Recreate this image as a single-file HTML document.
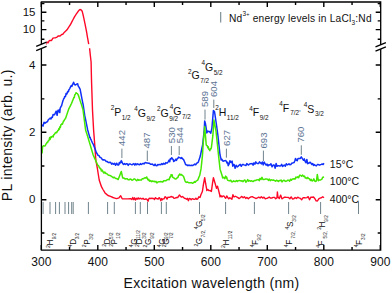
<!DOCTYPE html>
<html><head><meta charset="utf-8"><style>
html,body{margin:0;padding:0;background:#fff;}
svg{display:block;font-family:"Liberation Sans",sans-serif;}
</style></head><body>
<svg width="392" height="293" viewBox="0 0 392 293">
<rect width="392" height="293" fill="#fff"/>
<polyline points="44.30,45.04 46.10,44.14 47.12,42.04 48.15,42.79 49.18,40.74 50.20,40.40 51.57,40.43 52.93,38.13 54.30,37.92 55.67,37.73 57.03,37.02 58.40,35.85 60.05,35.94 61.70,34.50 62.80,34.23 63.90,32.87 65.00,31.80 66.00,30.80 67.00,29.80 67.80,28.60 68.60,27.40 69.40,26.20 70.20,25.00 70.83,23.80 71.46,22.60 72.09,21.40 72.71,20.20 73.34,19.00 73.97,17.80 74.60,16.60 75.32,15.54 76.04,14.48 76.76,13.42 77.48,12.36 78.20,11.30 79.20,10.10 80.00,9.50 81.00,9.80 82.20,11.30 82.53,12.62 82.85,13.95 83.17,15.28 83.50,16.60 83.74,17.79 83.99,18.98 84.23,20.17 84.48,21.36 84.72,22.54 84.97,23.73 85.21,24.92 85.46,26.11 85.70,27.30 86.00,28.87 86.30,30.43 86.60,32.00 86.80,33.20 87.00,34.40 87.20,35.60 87.40,36.80 87.60,38.00 87.82,39.22 88.04,40.44 88.26,41.66 88.48,42.88 88.70,44.10" fill="none" stroke="#ff0828" stroke-width="1.4" stroke-linejoin="round"/>
<polyline points="89.60,48.30 89.77,49.97 89.95,51.65 90.12,53.33 90.30,55.00 90.50,56.75 90.70,58.50 90.90,60.25 91.10,62.00 91.13,63.50 91.17,65.00 91.20,66.50 91.23,68.00 91.27,69.50 91.30,71.00 91.33,72.50 91.37,74.00 91.40,75.50 91.43,77.00 91.47,78.50 91.50,80.00 91.55,81.50 91.60,83.00 91.65,84.50 91.70,86.00 91.75,87.50 91.80,89.00 91.85,90.50 91.90,92.00 91.95,93.50 92.00,95.00 92.05,96.50 92.10,98.00 92.15,99.50 92.20,101.00 92.25,102.50 92.30,104.00 92.35,105.50 92.40,107.00 92.45,108.50 92.50,110.00 92.58,111.54 92.67,113.08 92.75,114.62 92.84,116.15 92.92,117.69 93.01,119.23 93.09,120.77 93.18,122.31 93.26,123.85 93.35,125.38 93.43,126.92 93.52,128.46 93.60,130.00 93.72,131.53 93.84,133.06 93.96,134.59 94.08,136.12 94.20,137.65 94.32,139.18 94.44,140.71 94.56,142.24 94.68,143.77 94.80,145.30 94.91,146.93 95.02,148.57 95.13,150.20 95.24,151.83 95.36,153.47 95.47,155.10 95.58,156.73 95.69,158.37 95.80,160.00 96.10,161.60 96.40,163.20 96.70,164.80 97.00,166.40 97.30,168.00 97.54,169.50 97.78,171.00 98.01,172.50 98.25,174.00 98.49,175.50 98.72,177.00 98.96,178.50 99.20,180.00 99.70,181.53 100.20,183.05 100.70,184.57 101.20,186.10 102.10,187.80 103.00,189.50 104.15,191.40 105.30,193.30 106.65,194.40 108.00,195.50 110.50,196.40 113.00,197.50 114.80,198.05 116.60,198.60 119.00,197.80 120.70,195.80 121.45,197.30 122.20,198.80 124.10,198.85 126.00,198.90 128.00,198.85 130.00,198.80 130.91,198.79 131.82,199.53 132.73,197.50 133.64,199.63 134.55,197.82 135.45,200.10 136.36,198.30 137.27,199.14 138.18,197.85 139.09,199.00 140.00,198.31 141.00,198.48 142.00,199.10 143.00,198.21 144.00,199.25 145.00,199.37 146.00,198.73 147.00,199.40 148.00,201.29 149.00,198.40 150.00,198.13 150.91,198.73 151.82,198.15 152.73,198.51 153.64,198.49 154.55,199.49 155.45,197.67 156.36,198.59 157.27,198.75 158.18,199.13 159.09,197.64 160.00,198.43 160.85,200.70 161.70,198.55 162.35,199.76 163.00,198.83 164.00,198.92 165.00,196.72 166.00,197.30 167.00,199.06 168.00,197.10 169.00,197.32 170.00,197.29 171.00,196.50 172.00,196.99 173.00,197.02 174.00,198.40 175.00,198.13 176.00,197.78 176.88,197.50 177.75,197.50 178.62,196.19 179.50,194.96 180.47,196.29 181.45,197.13 182.43,196.47 183.40,197.30 184.43,198.23 185.47,198.50 186.50,199.21 187.43,198.36 188.37,200.68 189.30,198.45 190.23,198.61 191.17,199.81 192.10,198.72 193.03,198.84 193.97,199.37 194.90,199.41 195.83,198.15 196.77,199.27 197.70,199.04 198.85,196.82 200.00,197.50 200.33,196.50 200.67,195.50 201.00,194.50 201.47,193.47 201.93,192.43 202.40,191.40 202.54,190.47 202.68,189.55 202.81,188.62 202.95,187.70 203.09,186.78 203.22,185.85 203.36,184.93 203.50,184.00 203.67,183.09 203.84,182.17 204.01,181.26 204.19,180.34 204.36,179.43 204.53,178.51 204.70,177.60 204.84,178.51 204.99,179.43 205.13,180.34 205.27,181.26 205.41,182.17 205.56,183.09 205.70,184.00 205.88,184.97 206.07,185.93 206.25,186.90 206.43,187.87 206.62,188.83 206.80,190.56 207.90,189.59 209.00,190.66 210.20,190.57 211.40,191.40 211.53,190.47 211.65,189.55 211.78,188.62 211.90,187.70 212.03,186.78 212.15,185.85 212.28,184.93 212.40,184.00 212.54,183.09 212.69,182.17 212.83,181.26 212.97,180.34 213.11,179.43 213.26,178.51 213.40,177.60 213.67,178.50 213.93,179.40 214.20,180.30 214.47,181.20 214.73,182.10 215.00,183.00 215.25,183.88 215.50,184.77 215.75,185.65 216.00,186.53 216.25,187.42 216.50,188.30 217.00,187.25 217.50,186.20 217.75,187.15 218.00,188.10 218.25,189.05 218.50,190.00 218.75,191.00 219.00,192.00 219.25,193.00 219.50,194.00 219.75,195.00 220.00,196.92 220.95,195.58 221.90,196.90 222.85,196.10 223.80,195.95 224.75,197.20 225.70,198.25 226.72,196.00 227.74,197.48 228.76,198.87 229.78,197.71 230.80,198.42 231.87,199.26 232.93,194.74 234.00,197.00 235.30,196.26 236.61,196.98 237.91,197.58 239.21,198.57 240.52,197.55 241.82,196.39 243.12,197.78 244.42,196.73 245.73,198.44 247.03,197.41 248.33,198.85 249.64,197.52 250.94,196.90 252.24,196.60 253.55,197.38 254.85,197.96 256.15,198.49 257.45,197.85 258.76,197.16 260.06,198.03 261.36,196.69 262.67,198.05 263.97,197.18 265.27,198.77 266.58,198.42 267.88,197.99 269.18,197.03 270.48,198.14 271.79,198.02 273.09,197.39 274.39,197.35 275.70,198.68 277.00,197.80 277.10,196.35 277.20,194.90 277.30,193.45 277.40,192.00 277.55,193.45 277.70,194.90 277.85,196.35 278.00,196.95 279.31,198.45 280.63,195.10 281.94,198.78 283.26,197.98 284.57,197.08 285.89,197.27 287.20,197.41 288.51,197.56 289.83,198.73 291.14,196.92 292.46,198.95 293.77,198.84 295.09,197.54 296.40,198.44 297.71,197.23 299.03,197.86 300.34,198.32 301.66,199.84 302.97,197.75 304.29,197.64 305.60,197.83 306.91,197.61 308.23,196.67 309.54,199.77 310.86,197.15 312.17,197.18 313.49,197.05 314.80,198.53 316.11,200.92 317.43,200.99 318.74,198.84 320.06,198.17 321.37,197.78 322.69,196.74 324.00,197.80" fill="none" stroke="#ff0828" stroke-width="1.4" stroke-linejoin="round"/>
<polyline points="42.00,124.77 43.02,126.14 44.05,122.24 45.08,123.29 46.10,122.44 46.78,121.87 47.47,121.66 48.15,119.92 48.83,119.15 49.52,118.90 50.20,118.05 50.93,119.07 51.66,117.31 52.39,117.40 53.11,114.55 53.84,114.79 54.57,114.74 55.30,113.03 56.20,111.19 57.10,115.32 58.00,110.24 58.90,111.78 59.33,109.76 59.77,112.58 60.20,107.92 60.63,107.44 61.07,106.29 61.50,106.00 61.76,105.06 62.01,104.11 62.27,103.17 62.53,102.23 62.79,101.29 63.04,100.34 63.30,99.75 63.76,98.64 64.22,98.13 64.69,96.56 65.15,96.73 65.61,96.03 66.08,93.46 66.54,94.20 67.00,93.68 67.47,91.98 67.94,91.32 68.41,91.77 68.89,89.77 69.36,89.18 69.83,88.31 70.30,87.37 70.85,86.21 71.40,85.49 71.95,86.37 72.50,84.60 73.05,83.45 73.60,82.30 74.00,83.25 74.40,84.50 75.50,85.01 76.60,84.15 77.70,83.82 78.18,85.97 78.66,86.47 79.14,87.49 79.62,88.26 80.10,89.10 80.27,90.00 80.44,90.90 80.61,91.80 80.78,92.70 80.95,93.60 81.12,94.50 81.29,95.40 81.46,96.30 81.63,97.20 81.80,98.10 82.00,99.09 82.20,100.07 82.40,101.06 82.60,102.04 82.80,103.03 83.00,104.01 83.20,105.00 83.34,105.93 83.47,106.85 83.61,107.78 83.75,108.71 83.88,109.64 84.02,110.56 84.15,111.49 84.29,112.42 84.43,113.35 84.56,114.27 84.70,115.20 84.89,116.12 85.08,117.05 85.26,117.98 85.45,118.90 85.64,119.83 85.83,120.75 86.01,121.67 86.20,122.60 86.39,123.53 86.58,124.45 86.76,125.38 86.95,126.30 87.14,127.22 87.33,128.15 87.51,129.07 87.70,130.00 87.95,130.90 88.20,131.80 88.45,132.70 88.70,133.60 88.95,134.50 89.20,135.40 89.45,136.30 89.70,137.58 90.15,137.22 90.60,139.14 91.05,139.52 91.50,140.81 91.95,141.68 92.40,142.74 92.85,143.68 93.30,144.30 93.64,145.21 93.99,146.12 94.33,147.03 94.68,147.94 95.02,148.86 95.37,149.77 95.71,150.68 96.06,151.59 96.40,152.35 96.87,153.51 97.33,153.82 97.80,155.19 98.53,155.53 99.26,155.90 99.99,157.41 100.71,157.64 101.44,158.11 102.17,159.42 102.90,160.03 103.72,159.77 104.54,159.96 105.36,160.41 106.18,161.51 107.00,161.46 107.93,162.20 108.87,162.63 109.80,162.25 110.73,162.56 111.67,164.24 112.60,163.28 113.62,164.29 114.63,163.32 115.65,165.28 116.67,163.17 117.68,164.97 118.70,164.92 119.22,162.79 119.74,163.63 120.26,161.98 120.78,162.48 121.30,160.60 121.77,161.63 122.23,162.67 122.70,163.70 123.62,164.41 124.53,163.59 125.45,164.38 126.37,163.81 127.28,163.83 128.20,165.42 129.15,163.88 130.09,163.92 131.04,164.41 131.98,164.83 132.93,164.14 133.88,163.64 134.82,165.17 135.77,163.63 136.72,164.68 137.66,163.73 138.61,164.47 139.55,164.77 140.50,163.66 141.37,164.47 142.24,163.92 143.11,163.23 143.99,164.01 144.86,162.83 145.73,162.59 146.60,162.97 147.56,163.05 148.52,163.24 149.48,163.18 150.44,164.26 151.40,164.17 152.32,163.99 153.23,164.87 154.15,165.56 155.07,164.06 155.98,165.54 156.90,165.69 157.87,164.41 158.84,164.96 159.81,164.38 160.79,164.79 161.76,163.60 162.73,164.46 163.70,163.29 165.00,164.17 165.82,162.62 166.64,162.96 167.46,162.89 168.28,161.61 169.10,160.04 169.72,161.79 170.35,158.70 170.97,159.12 171.60,157.75 172.12,158.07 172.65,159.13 173.17,159.46 173.70,161.46 174.70,160.90 175.70,159.20 176.42,160.36 177.14,158.88 177.86,158.47 178.58,157.15 179.30,157.51 180.12,157.72 180.94,158.47 181.76,157.55 182.58,158.93 183.40,159.20 183.80,160.12 184.20,161.04 184.60,161.96 185.00,162.88 185.40,164.11 186.20,164.90 187.00,164.89 187.92,165.73 188.84,165.01 189.76,165.55 190.68,165.43 191.60,165.27 192.62,165.62 193.65,164.97 194.67,164.14 195.70,164.77 196.53,163.45 197.37,162.80 198.20,162.30 198.50,161.41 198.80,160.53 199.10,159.64 199.40,158.76 199.70,157.87 200.00,156.99 200.30,156.10 200.48,155.20 200.67,154.30 200.85,153.40 201.04,152.50 201.22,151.60 201.41,150.70 201.59,149.80 201.78,148.90 201.96,148.00 202.15,147.10 202.33,146.20 202.52,145.30 202.70,144.40 202.80,143.45 202.90,142.49 203.00,141.54 203.10,140.59 203.20,139.63 203.30,138.68 203.40,137.73 203.50,136.77 203.60,135.82 203.70,134.87 203.80,133.91 203.90,132.96 204.00,132.01 204.10,131.05 204.20,130.10 204.25,129.19 204.30,128.28 204.35,127.37 204.40,126.46 204.45,125.55 204.50,124.64 204.55,123.73 204.60,122.82 204.65,121.91 204.70,121.00 204.97,122.00 205.23,123.00 205.50,124.00 205.64,124.91 205.79,125.82 205.93,126.73 206.08,127.64 206.22,128.56 206.37,129.47 206.51,130.38 206.66,131.29 206.80,132.91 207.80,131.10 208.80,131.55 209.47,131.45 210.13,132.50 210.80,133.20 211.02,132.18 211.24,131.16 211.46,130.14 211.68,129.12 211.90,128.10 211.98,127.18 212.06,126.27 212.14,125.35 212.22,124.44 212.29,123.52 212.37,122.61 212.45,121.69 212.53,120.77 212.61,119.86 212.69,118.94 212.77,118.03 212.85,117.11 212.93,116.19 213.01,115.28 213.08,114.36 213.16,113.45 213.24,112.53 213.32,111.62 213.40,110.61 214.50,111.50 214.63,112.40 214.77,113.30 214.90,114.20 215.03,115.10 215.17,116.00 215.30,116.90 215.43,117.80 215.57,118.70 215.70,119.60 215.83,120.50 215.97,121.40 216.10,122.30 216.23,123.20 216.37,124.10 216.50,125.00 216.62,125.93 216.75,126.87 216.88,127.80 217.00,128.73 217.12,129.67 217.25,130.60 217.38,131.53 217.50,132.47 217.62,133.40 217.75,134.33 217.88,135.27 218.00,136.20 218.10,137.10 218.19,137.99 218.29,138.89 218.38,139.78 218.48,140.68 218.57,141.57 218.67,142.47 218.76,143.36 218.86,144.26 218.95,145.15 219.05,146.05 219.14,146.94 219.24,147.84 219.33,148.73 219.43,149.63 219.52,150.52 219.62,151.42 219.71,152.31 219.81,153.21 219.90,154.10 220.00,155.00 220.28,156.05 220.55,157.10 220.82,158.15 221.10,159.96 221.77,159.31 222.43,160.22 223.10,161.28 224.15,160.83 225.20,160.72 225.80,160.56 226.40,161.42 227.00,162.92 227.60,162.32 228.20,165.70 229.07,164.19 229.93,160.71 230.80,162.42 231.46,162.41 232.12,161.14 232.78,166.25 233.44,164.42 234.10,164.42 235.13,168.30 236.17,165.28 237.20,166.98 238.22,166.15 239.24,165.09 240.26,164.33 241.28,166.32 242.30,164.60 243.20,164.49 244.10,164.91 245.00,165.14 245.90,165.57 246.80,163.60 247.70,164.56 248.60,164.94 249.50,163.97 250.40,163.86 251.30,163.84 252.20,163.58 253.10,165.09 254.00,162.90 254.90,164.19 255.80,161.90 256.70,163.11 257.60,163.44 258.53,163.57 259.47,161.91 260.40,162.78 261.33,163.85 262.27,162.03 263.20,164.89 264.16,162.04 265.11,163.69 266.07,165.19 267.03,164.05 267.99,165.93 268.94,164.68 269.90,165.08 270.96,163.80 272.02,166.76 273.08,165.09 274.14,165.00 275.20,168.20 276.13,163.39 277.05,166.29 277.98,165.72 278.91,165.77 279.84,166.10 280.76,165.69 281.69,164.40 282.62,166.51 283.55,165.54 284.47,165.13 285.40,166.11 286.30,163.71 287.20,164.90 288.10,164.48 289.00,163.86 289.90,164.73 290.80,164.55 291.70,163.22 292.60,162.94 293.33,162.66 294.05,162.62 294.77,161.04 295.50,158.44 296.33,160.13 297.17,160.71 298.00,158.42 299.10,158.43 300.20,158.49 301.30,156.89 302.40,158.63 303.50,160.28 304.33,158.90 305.17,161.59 306.00,162.72 306.84,159.44 307.68,163.69 308.52,163.26 309.36,162.74 310.20,162.20 311.05,163.32 311.90,164.57 312.75,163.48 313.60,165.54 314.45,164.65 315.30,165.34 316.32,165.91 317.34,164.59 318.36,164.60 319.38,165.18 320.40,164.75 321.30,164.41 322.20,163.92 323.10,164.53 324.00,163.30" fill="none" stroke="#1030f8" stroke-width="1.5" stroke-linejoin="round"/>
<polyline points="42.00,153.50 42.09,152.56 42.17,151.61 42.26,150.67 42.34,149.73 42.43,148.79 42.51,147.84 42.60,146.58 43.48,145.66 44.35,146.07 45.23,145.74 46.10,143.91 46.61,143.22 47.12,142.36 47.64,142.55 48.15,140.98 48.66,140.83 49.18,139.98 49.69,137.42 50.20,139.42 50.93,136.78 51.66,137.18 52.39,136.06 53.11,136.88 53.84,134.67 54.57,134.16 55.30,132.91 55.92,132.49 56.54,132.75 57.16,131.76 57.78,130.57 58.40,130.42 58.90,128.54 59.40,129.45 59.90,126.74 60.40,127.25 60.92,124.71 61.44,124.59 61.96,123.70 62.48,124.14 63.00,122.53 63.52,121.08 64.04,120.90 64.56,119.56 65.08,119.04 65.60,118.30 65.91,117.38 66.22,116.46 66.53,115.54 66.84,114.62 67.15,113.70 67.46,112.78 67.77,111.86 68.08,110.94 68.39,110.02 68.70,109.10 69.17,108.17 69.63,107.23 70.10,106.30 70.57,105.37 71.03,104.43 71.50,103.50 71.85,102.62 72.20,101.75 72.55,100.88 72.90,100.00 73.25,99.12 73.60,98.25 73.95,97.38 74.30,97.51 74.72,94.90 75.14,94.68 75.56,93.79 75.98,92.67 76.40,92.99 76.90,93.40 77.40,93.67 77.90,94.36 78.40,95.30 78.69,96.19 78.97,97.07 79.26,97.96 79.54,98.84 79.83,99.73 80.11,100.61 80.40,101.50 80.70,102.38 81.00,103.25 81.30,104.12 81.60,105.00 81.88,105.94 82.16,106.88 82.44,107.82 82.72,108.76 83.00,109.70 83.12,110.62 83.24,111.55 83.35,112.47 83.47,113.39 83.59,114.31 83.71,115.24 83.83,116.16 83.95,117.08 84.06,118.00 84.18,118.93 84.30,119.85 84.42,120.77 84.54,121.70 84.65,122.62 84.77,123.54 84.89,124.46 85.01,125.39 85.13,126.31 85.25,127.23 85.36,128.15 85.48,129.08 85.60,130.00 85.89,130.91 86.18,131.82 86.47,132.73 86.76,133.64 87.04,134.56 87.33,135.47 87.62,136.38 87.91,137.29 88.20,138.20 88.46,139.08 88.73,139.97 88.99,140.85 89.25,141.74 89.52,142.62 89.78,143.51 90.04,144.39 90.31,145.27 90.57,146.16 90.83,147.04 91.09,147.93 91.36,148.81 91.62,149.69 91.88,150.58 92.15,151.46 92.41,152.35 92.67,153.23 92.94,154.12 93.20,155.00 93.57,155.84 93.95,156.67 94.32,157.51 94.69,158.35 95.06,159.18 95.44,160.02 95.81,160.85 96.18,161.69 96.55,162.53 96.93,163.36 97.30,163.97 97.81,165.33 98.33,165.57 98.84,166.13 99.35,167.69 99.86,167.78 100.38,169.02 100.89,168.75 101.40,171.05 102.25,170.17 103.10,172.00 103.95,173.12 104.80,171.99 105.65,173.41 106.50,173.41 107.35,174.22 108.20,175.06 109.05,175.34 109.90,175.49 110.75,175.90 111.60,176.44 112.42,177.01 113.25,177.82 114.08,177.17 114.90,177.90 115.72,178.41 116.55,178.55 117.38,179.02 118.20,179.50 118.54,178.60 118.89,177.70 119.23,176.80 119.58,175.90 119.92,175.00 120.27,174.10 120.61,173.20 120.96,172.30 121.30,171.40 121.50,172.34 121.70,173.29 121.90,174.23 122.10,175.17 122.30,176.11 122.50,177.06 122.70,177.91 123.62,178.02 124.53,178.49 125.45,179.05 126.37,178.80 127.28,178.72 128.20,179.81 129.15,179.86 130.09,179.09 131.04,179.21 131.98,180.25 132.93,179.90 133.88,179.02 134.82,179.04 135.77,180.00 136.72,180.75 137.66,179.29 138.61,180.16 139.55,179.91 140.50,179.90 141.42,179.98 142.33,178.69 143.25,178.76 144.17,178.12 145.08,177.73 146.00,177.92 146.68,176.98 147.36,178.63 148.04,179.99 148.72,179.36 149.40,181.10 150.34,180.53 151.28,181.61 152.21,180.95 153.15,181.60 154.09,181.18 155.03,181.91 155.96,181.32 156.90,182.97 157.87,181.88 158.84,181.79 159.81,181.81 160.79,181.58 161.76,181.69 162.73,182.05 163.70,180.70 165.00,180.73 166.03,180.66 167.05,179.82 168.07,179.34 169.10,179.83 169.60,178.29 170.10,176.80 170.60,177.04 171.10,174.62 171.60,175.42 172.13,174.74 172.67,177.23 173.20,177.55 174.20,178.14 175.20,178.98 176.20,178.75 176.80,178.41 177.40,177.39 178.00,177.39 178.60,175.21 179.20,175.22 179.80,173.94 180.70,174.96 181.60,174.51 182.50,175.65 183.40,176.10 183.73,177.05 184.07,178.00 184.40,178.95 184.73,179.90 185.07,180.85 185.40,181.66 186.43,182.38 187.47,181.97 188.50,182.75 189.52,182.75 190.54,182.80 191.56,182.62 192.58,183.29 193.60,182.72 194.42,181.66 195.24,182.32 196.06,181.07 196.88,180.67 197.70,180.20 198.05,179.35 198.40,178.50 198.75,177.65 199.10,176.80 199.45,175.95 199.80,175.10 199.99,174.14 200.17,173.19 200.36,172.23 200.54,171.27 200.73,170.31 200.91,169.36 201.10,168.40 201.20,167.44 201.30,166.49 201.40,165.53 201.50,164.57 201.60,163.61 201.70,162.66 201.80,161.70 201.90,160.74 202.00,159.79 202.10,158.83 202.20,157.87 202.30,156.91 202.40,155.96 202.50,155.00 202.56,154.03 202.62,153.07 202.68,152.10 202.73,151.13 202.79,150.17 202.85,149.20 202.91,148.23 202.97,147.27 203.02,146.30 203.08,145.33 203.14,144.37 203.20,143.40 203.28,142.47 203.37,141.53 203.45,140.60 203.53,139.67 203.62,138.73 203.70,137.80 203.78,136.87 203.87,135.93 203.95,135.00 204.03,134.07 204.12,133.13 204.20,132.20 204.28,131.27 204.37,130.33 204.45,129.40 204.53,128.47 204.62,127.53 204.70,126.60 204.78,127.54 204.86,128.47 204.94,129.41 205.02,130.35 205.09,131.28 205.17,132.22 205.25,133.16 205.33,134.09 205.41,135.03 205.49,135.97 205.57,136.91 205.65,137.84 205.73,138.78 205.81,139.72 205.88,140.65 205.96,141.59 206.04,142.53 206.12,143.46 206.20,144.88 206.73,145.52 207.27,145.71 207.80,147.71 208.30,146.89 208.80,149.33 209.30,149.53 209.80,150.73 210.33,148.83 210.87,148.98 211.40,147.50 211.52,146.55 211.63,145.61 211.75,144.66 211.86,143.72 211.98,142.77 212.09,141.82 212.21,140.88 212.32,139.93 212.44,138.98 212.55,138.04 212.67,137.09 212.78,136.15 212.90,135.20 212.96,134.25 213.03,133.30 213.09,132.35 213.15,131.40 213.21,130.45 213.28,129.50 213.34,128.55 213.40,127.60 213.46,126.65 213.53,125.70 213.59,124.75 213.65,123.80 213.71,122.85 213.78,121.90 213.84,120.95 213.90,120.00 214.08,120.92 214.25,121.85 214.43,122.78 214.60,123.70 214.78,124.62 214.95,125.55 215.12,126.47 215.30,127.40 215.47,128.32 215.65,129.25 215.82,130.17 216.00,131.10 216.10,132.02 216.20,132.94 216.30,133.86 216.40,134.78 216.50,135.70 216.60,136.62 216.70,137.54 216.80,138.46 216.90,139.38 217.00,140.30 217.09,141.22 217.19,142.14 217.28,143.06 217.38,143.98 217.47,144.89 217.56,145.81 217.66,146.73 217.75,147.65 217.84,148.57 217.94,149.49 218.03,150.41 218.12,151.32 218.22,152.24 218.31,153.16 218.41,154.08 218.50,155.00 218.60,155.90 218.70,156.80 218.80,157.70 218.90,158.60 219.00,159.50 219.10,160.40 219.20,161.30 219.30,162.20 219.40,163.10 219.50,164.00 219.60,164.90 219.70,165.80 219.80,166.70 219.90,167.60 220.00,168.50 220.10,169.40 220.41,170.36 220.72,171.32 221.04,172.29 221.35,173.25 221.66,174.21 221.97,175.18 222.29,176.14 222.60,177.90 223.65,177.27 224.70,178.60 225.20,177.55 225.70,176.10 226.20,177.90 226.70,177.16 227.20,179.26 227.70,180.25 228.80,180.64 229.78,180.70 230.75,180.25 231.72,181.88 232.70,181.67 233.65,180.86 234.60,181.44 235.55,181.54 236.50,180.56 237.45,181.40 238.40,180.62 239.35,180.50 240.30,180.65 241.23,181.13 242.15,180.72 243.08,181.59 244.01,180.41 244.94,179.97 245.86,182.22 246.79,181.19 247.72,179.59 248.65,181.23 249.57,180.51 250.50,181.17 251.75,180.82 253.00,181.55 253.87,180.88 254.73,180.51 255.60,180.57 256.47,179.95 257.33,179.87 258.20,179.60 259.15,180.59 260.10,178.39 261.05,179.44 262.00,177.39 262.91,179.44 263.83,179.59 264.74,179.30 265.66,178.98 266.57,179.05 267.49,179.15 268.40,180.41 269.30,179.02 270.20,180.73 271.10,179.71 272.00,180.09 272.90,180.26 273.80,180.03 274.70,180.61 275.60,181.22 276.50,180.16 277.40,180.61 278.30,181.42 279.20,180.61 280.10,180.69 281.06,180.02 282.03,181.89 282.99,180.59 283.95,180.14 284.91,180.97 285.88,181.43 286.84,180.93 287.80,180.14 288.70,180.19 289.60,181.23 290.50,179.23 291.40,180.20 292.30,179.06 293.20,179.01 294.10,178.69 295.01,179.16 295.93,177.14 296.84,177.64 297.76,176.75 298.67,177.69 299.59,175.33 300.50,175.21 301.57,176.19 302.63,175.15 303.70,176.53 304.50,176.05 305.30,178.07 306.10,177.72 306.90,178.58 307.75,177.39 308.60,178.61 309.45,178.64 310.30,180.45 311.15,179.36 312.00,180.98 312.90,180.56 313.80,178.90 314.70,181.07 315.60,181.43 316.50,180.80 316.61,179.89 316.73,178.97 316.84,178.06 316.96,177.14 317.07,176.23 317.19,175.31 317.30,174.40 317.46,175.31 317.61,176.23 317.77,177.14 317.93,178.06 318.09,178.97 318.24,179.89 318.40,180.68 319.35,179.96 320.30,180.01 321.13,179.65 321.97,179.04 322.80,177.18 324.10,176.90" fill="none" stroke="#44e800" stroke-width="1.5" stroke-linejoin="round"/>
<path d="M41.4,2.0 H380.7 M41.4,250.1 H380.7 M41.4,2.0 V250.1 M380.7,2.0 V250.1" stroke="#000" stroke-width="1.3" fill="none" stroke-linecap="square" stroke-linejoin="round"/>
<path d="M41.30,2.0 v5 M41.30,250.1 v-5 M69.55,2.0 v3 M69.55,250.1 v-3 M97.80,2.0 v5 M97.80,250.1 v-5 M126.05,2.0 v3 M126.05,250.1 v-3 M154.30,2.0 v5 M154.30,250.1 v-5 M182.55,2.0 v3 M182.55,250.1 v-3 M210.80,2.0 v5 M210.80,250.1 v-5 M239.05,2.0 v3 M239.05,250.1 v-3 M267.30,2.0 v5 M267.30,250.1 v-5 M295.55,2.0 v3 M295.55,250.1 v-3 M323.80,2.0 v5 M323.80,250.1 v-5 M352.05,2.0 v3 M352.05,250.1 v-3 M380.30,2.0 v5 M380.30,250.1 v-5 M41.4,12.2 h5 M380.7,12.2 h-5 M41.4,29.6 h5 M380.7,29.6 h-5 M41.4,3.6 h3 M380.7,3.6 h-3 M41.4,20.9 h3 M380.7,20.9 h-3 M41.4,39.2 h3 M380.7,39.2 h-3 M41.4,65.0 h5 M380.7,65.0 h-5 M41.4,132.3 h5 M380.7,132.3 h-5 M41.4,199.8 h5 M380.7,199.8 h-5 M41.4,98.9 h3 M380.7,98.9 h-3 M41.4,166.0 h3 M380.7,166.0 h-3 M41.4,233.0 h3 M380.7,233.0 h-3" stroke="#000" stroke-width="1.4" fill="none"/>
<polygon points="36.4,46.4 46.4,42.2 46.4,46.4 36.4,50.5" fill="#fff"/>
<path d="M36.199999999999996,46.4 L46.6,42.2 M36.199999999999996,50.6 L46.6,46.4" stroke="#000" stroke-width="1.3"/>
<polygon points="375.7,46.9 385.7,42.7 385.7,46.9 375.7,51.0" fill="#fff"/>
<path d="M375.5,46.9 L385.9,42.7 M375.5,51.1 L385.9,46.9" stroke="#000" stroke-width="1.3"/>
<path d="M43.1,202 V214 M50,202 V214 M55.6,202 V214 M59.4,202 V214 M65,202 V214 M68.6,202 V214 M71.7,202 V214 M73.2,202 V214 M88.4,202 V214 M107.6,202 V214 M114.3,202 V214 M135.4,202 V214 M140.3,202 V214 M147.5,202 V214 M161.4,202 V214 M166.3,202 V214 M199.5,202 V214 M225.6,202 V214 M254.4,202 V214 M288.6,202 V214 M320.6,202 V214 M358.5,202 V214" stroke="#70848c" stroke-width="1"/>
<path d="M220.7,12 V22.5" stroke="#70848c" stroke-width="1.1"/>
<path d="M121.9,148.6 V158 M147.3,150.6 V161 M171.4,146 V155 M179.2,146 V155 M205,109.6 V119.6 M213.8,99.6 V108 M226.4,148.6 V157.7 M263.4,150.6 V161 M301.3,145.3 V154.8" stroke="#70848c" stroke-width="1"/>
<text transform="translate(124.80,146.00) rotate(-90)" font-size="9.6" fill="#5e7594">442</text>
<text transform="translate(149.60,148.50) rotate(-90)" font-size="9.6" fill="#5e7594">487</text>
<text transform="translate(174.85,143.20) rotate(-90)" font-size="9.6" fill="#5e7594">530</text>
<text transform="translate(182.95,143.20) rotate(-90)" font-size="9.6" fill="#5e7594">544</text>
<text transform="translate(208.05,107.00) rotate(-90)" font-size="9.6" fill="#5e7594">589</text>
<text transform="translate(216.95,97.00) rotate(-90)" font-size="9.6" fill="#5e7594">604</text>
<text transform="translate(229.50,145.90) rotate(-90)" font-size="9.6" fill="#5e7594">627</text>
<text transform="translate(267.10,148.50) rotate(-90)" font-size="9.6" fill="#5e7594">693</text>
<text transform="translate(304.30,142.60) rotate(-90)" font-size="9.6" fill="#5e7594">760</text>
<text x="35.5" y="15.8" text-anchor="end" font-size="11.5" fill="#111">15</text>
<text x="35.5" y="33.2" text-anchor="end" font-size="11.5" fill="#111">10</text>
<text x="35.5" y="68.8" text-anchor="end" font-size="11.5" fill="#111">4</text>
<text x="35.5" y="135.9" text-anchor="end" font-size="11.5" fill="#111">2</text>
<text x="35.5" y="203.3" text-anchor="end" font-size="11.5" fill="#111">0</text>
<text x="41.30" y="265.5" text-anchor="middle" font-size="12" fill="#111">300</text>
<text x="97.80" y="265.5" text-anchor="middle" font-size="12" fill="#111">400</text>
<text x="154.30" y="265.5" text-anchor="middle" font-size="12" fill="#111">500</text>
<text x="210.80" y="265.5" text-anchor="middle" font-size="12" fill="#111">600</text>
<text x="267.30" y="265.5" text-anchor="middle" font-size="12" fill="#111">700</text>
<text x="323.80" y="265.5" text-anchor="middle" font-size="12" fill="#111">800</text>
<text x="380.30" y="265.5" text-anchor="middle" font-size="12" fill="#111">900</text>
<text x="123.6" y="288.4" font-size="14" letter-spacing="0.3" fill="#111">Excitation wavelength (nm)</text>
<text transform="translate(12.0,201.2) rotate(-90)" font-size="14" letter-spacing="0.33" fill="#111">PL intensity (arb. u.)</text>
<text x="329.8" y="168" font-size="10.5" fill="#111">15°C</text>
<text x="329.8" y="185.2" font-size="10.5" fill="#111">100°C</text>
<text x="329.8" y="202.9" font-size="10.5" fill="#111">400°C</text>
<text x="229.0" y="22.0" font-size="10.2" letter-spacing="0.2" fill="#111">Nd<tspan font-size="6.5" dy="-6">3</tspan><tspan font-size="5.5" dy="-0.5">+</tspan><tspan dy="6.5"> energy levels in LaCl</tspan><tspan font-size="6.5" dy="2.5">3</tspan><tspan dy="-2.5">:Nd</tspan></text>
<text x="110.7" y="115.5" font-size="10.5" fill="#111"><tspan font-size="6.4" dy="-5.9">2</tspan><tspan dy="5.9">P</tspan><tspan font-size="6.4" dy="4.0" dx="0.5">1/2</tspan></text>
<text x="134.3" y="116.5" font-size="10.5" fill="#111"><tspan font-size="6.4" dy="-5.9">4</tspan><tspan dy="5.9">G</tspan><tspan font-size="6.4" dy="4.0" dx="0.5">9/2</tspan></text>
<text x="156.9" y="116.8" font-size="10.5" fill="#111"><tspan font-size="6.4" dy="-5.9">2</tspan><tspan dy="5.9">G</tspan><tspan font-size="6.4" dy="4.0" dx="0.5">9/2</tspan></text>
<text x="169.7" y="115.10000000000001" font-size="10.5" fill="#111"><tspan font-size="6.4" dy="-5.9">4</tspan><tspan dy="5.9">G</tspan><tspan font-size="6.4" dy="4.0" dx="0.5">7/2</tspan></text>
<text x="188.0" y="79.4" font-size="10.5" fill="#111"><tspan font-size="6.4" dy="-5.9">2</tspan><tspan dy="5.9">G</tspan><tspan font-size="6.4" dy="4.0" dx="0.5">7/2</tspan></text>
<text x="201.4" y="71.10000000000001" font-size="10.5" fill="#111"><tspan font-size="6.4" dy="-5.9">4</tspan><tspan dy="5.9">G</tspan><tspan font-size="6.4" dy="4.0" dx="0.5">5/2</tspan></text>
<text x="215.2" y="116.10000000000001" font-size="10.5" fill="#111"><tspan font-size="6.4" dy="-5.9">2</tspan><tspan dy="5.9">H</tspan><tspan font-size="6.4" dy="4.0" dx="0.5">11/2</tspan></text>
<text x="249.3" y="116.4" font-size="10.5" fill="#111"><tspan font-size="6.4" dy="-5.9">4</tspan><tspan dy="5.9">F</tspan><tspan font-size="6.4" dy="4.0" dx="0.5">9/2</tspan></text>
<text x="279.2" y="112.3" font-size="10.5" fill="#111"><tspan font-size="6.4" dy="-5.9">4</tspan><tspan dy="5.9">F</tspan><tspan font-size="6.4" dy="3.0" dx="1.0">7/2</tspan><tspan font-size="6.4" dy="-4.6">,</tspan></text>
<text x="303.8" y="112.5" font-size="10.5" fill="#111"><tspan font-size="6.4" dy="-5.9">4</tspan><tspan dy="5.9">S</tspan><tspan font-size="6.4" dy="3.0" dx="0.5">3/2</tspan></text>
<text transform="translate(53.20,245.60) rotate(-90)" font-size="8.2" fill="#111">H</text>
<text transform="translate(49.60,248.00) rotate(-90)" font-size="5.2" fill="#111">2</text>
<text transform="translate(56.40,239.30) rotate(-90)" font-size="4.6" fill="#111">9/2</text>
<text transform="translate(76.00,244.80) rotate(-90)" font-size="8.2" fill="#111">D</text>
<text transform="translate(72.40,247.20) rotate(-90)" font-size="5.2" fill="#111">4</text>
<text transform="translate(79.20,239.30) rotate(-90)" font-size="4.6" fill="#111">3/2</text>
<text transform="translate(89.70,244.80) rotate(-90)" font-size="8.2" fill="#111">P</text>
<text transform="translate(86.10,247.20) rotate(-90)" font-size="5.2" fill="#111">2</text>
<text transform="translate(92.90,239.80) rotate(-90)" font-size="4.6" fill="#111">3/2</text>
<text transform="translate(110.00,244.40) rotate(-90)" font-size="8.2" fill="#111">D</text>
<text transform="translate(106.40,246.80) rotate(-90)" font-size="5.2" fill="#111">2</text>
<text transform="translate(113.20,238.90) rotate(-90)" font-size="4.6" fill="#111">5/2</text>
<text transform="translate(116.80,244.40) rotate(-90)" font-size="8.2" fill="#111">P</text>
<text transform="translate(113.20,246.80) rotate(-90)" font-size="5.2" fill="#111">2</text>
<text transform="translate(120.00,238.80) rotate(-90)" font-size="4.6" fill="#111">1/2</text>
<text transform="translate(136.70,244.80) rotate(-90)" font-size="8.2" fill="#111">G</text>
<text transform="translate(133.10,247.20) rotate(-90)" font-size="5.2" fill="#111">4</text>
<text transform="translate(139.90,238.90) rotate(-90)" font-size="4.6" fill="#111">11/2</text>
<text transform="translate(142.30,244.60) rotate(-90)" font-size="8.2" fill="#111">D</text>
<text transform="translate(138.70,247.00) rotate(-90)" font-size="5.2" fill="#111">2</text>
<text transform="translate(145.50,238.80) rotate(-90)" font-size="4.6" fill="#111">3/2</text>
<text transform="translate(150.80,245.10) rotate(-90)" font-size="8.2" fill="#111">G</text>
<text transform="translate(147.20,247.50) rotate(-90)" font-size="5.2" fill="#111">2</text>
<text transform="translate(154.00,238.80) rotate(-90)" font-size="4.6" fill="#111">9/2</text>
<text transform="translate(164.60,244.80) rotate(-90)" font-size="8.2" fill="#111">G</text>
<text transform="translate(161.00,247.20) rotate(-90)" font-size="5.2" fill="#111">4</text>
<text transform="translate(167.80,238.90) rotate(-90)" font-size="4.6" fill="#111">9/2</text>
<text transform="translate(169.30,244.80) rotate(-90)" font-size="8.2" fill="#111">G</text>
<text transform="translate(165.70,247.20) rotate(-90)" font-size="5.2" fill="#111">2</text>
<text transform="translate(172.50,238.80) rotate(-90)" font-size="4.6" fill="#111">7/2</text>
<text transform="translate(202.00,244.20) rotate(-90)" font-size="8.2" fill="#111">G</text>
<text transform="translate(198.40,246.60) rotate(-90)" font-size="5.2" fill="#111">2</text>
<text transform="translate(205.20,237.30) rotate(-90)" font-size="4.6" fill="#111">7/2,</text>
<text transform="translate(202.00,226.90) rotate(-90)" font-size="8.2" fill="#111">G</text>
<text transform="translate(198.40,229.30) rotate(-90)" font-size="5.2" fill="#111">4</text>
<text transform="translate(205.20,220.90) rotate(-90)" font-size="4.6" fill="#111">5/2</text>
<text transform="translate(229.00,245.50) rotate(-90)" font-size="8.2" fill="#111">H</text>
<text transform="translate(225.40,247.90) rotate(-90)" font-size="5.2" fill="#111">2</text>
<text transform="translate(232.20,239.30) rotate(-90)" font-size="4.6" fill="#111">11/2</text>
<text transform="translate(257.70,244.90) rotate(-90)" font-size="8.2" fill="#111">F</text>
<text transform="translate(254.10,247.30) rotate(-90)" font-size="5.2" fill="#111">4</text>
<text transform="translate(260.90,240.50) rotate(-90)" font-size="4.6" fill="#111">9/2</text>
<text transform="translate(291.70,244.80) rotate(-90)" font-size="8.2" fill="#111">F</text>
<text transform="translate(288.10,247.20) rotate(-90)" font-size="5.2" fill="#111">4</text>
<text transform="translate(294.90,238.60) rotate(-90)" font-size="4.6" fill="#111">7/2,</text>
<text transform="translate(292.50,227.00) rotate(-90)" font-size="8.2" fill="#111">S</text>
<text transform="translate(288.90,229.40) rotate(-90)" font-size="5.2" fill="#111">4</text>
<text transform="translate(295.70,221.70) rotate(-90)" font-size="4.6" fill="#111">3/2</text>
<text transform="translate(324.50,227.40) rotate(-90)" font-size="8.2" fill="#111">H</text>
<text transform="translate(320.90,229.80) rotate(-90)" font-size="5.2" fill="#111">2</text>
<text transform="translate(327.70,221.70) rotate(-90)" font-size="4.6" fill="#111">9/2</text>
<text transform="translate(323.70,245.40) rotate(-90)" font-size="8.2" fill="#111">F</text>
<text transform="translate(320.10,247.80) rotate(-90)" font-size="5.2" fill="#111">4</text>
<text transform="translate(326.90,238.50) rotate(-90)" font-size="4.6" fill="#111">5/2,</text>
<text transform="translate(361.60,244.90) rotate(-90)" font-size="8.2" fill="#111">F</text>
<text transform="translate(358.00,247.30) rotate(-90)" font-size="5.2" fill="#111">4</text>
<text transform="translate(364.80,239.90) rotate(-90)" font-size="4.6" fill="#111">3/2</text>
</svg></body></html>
